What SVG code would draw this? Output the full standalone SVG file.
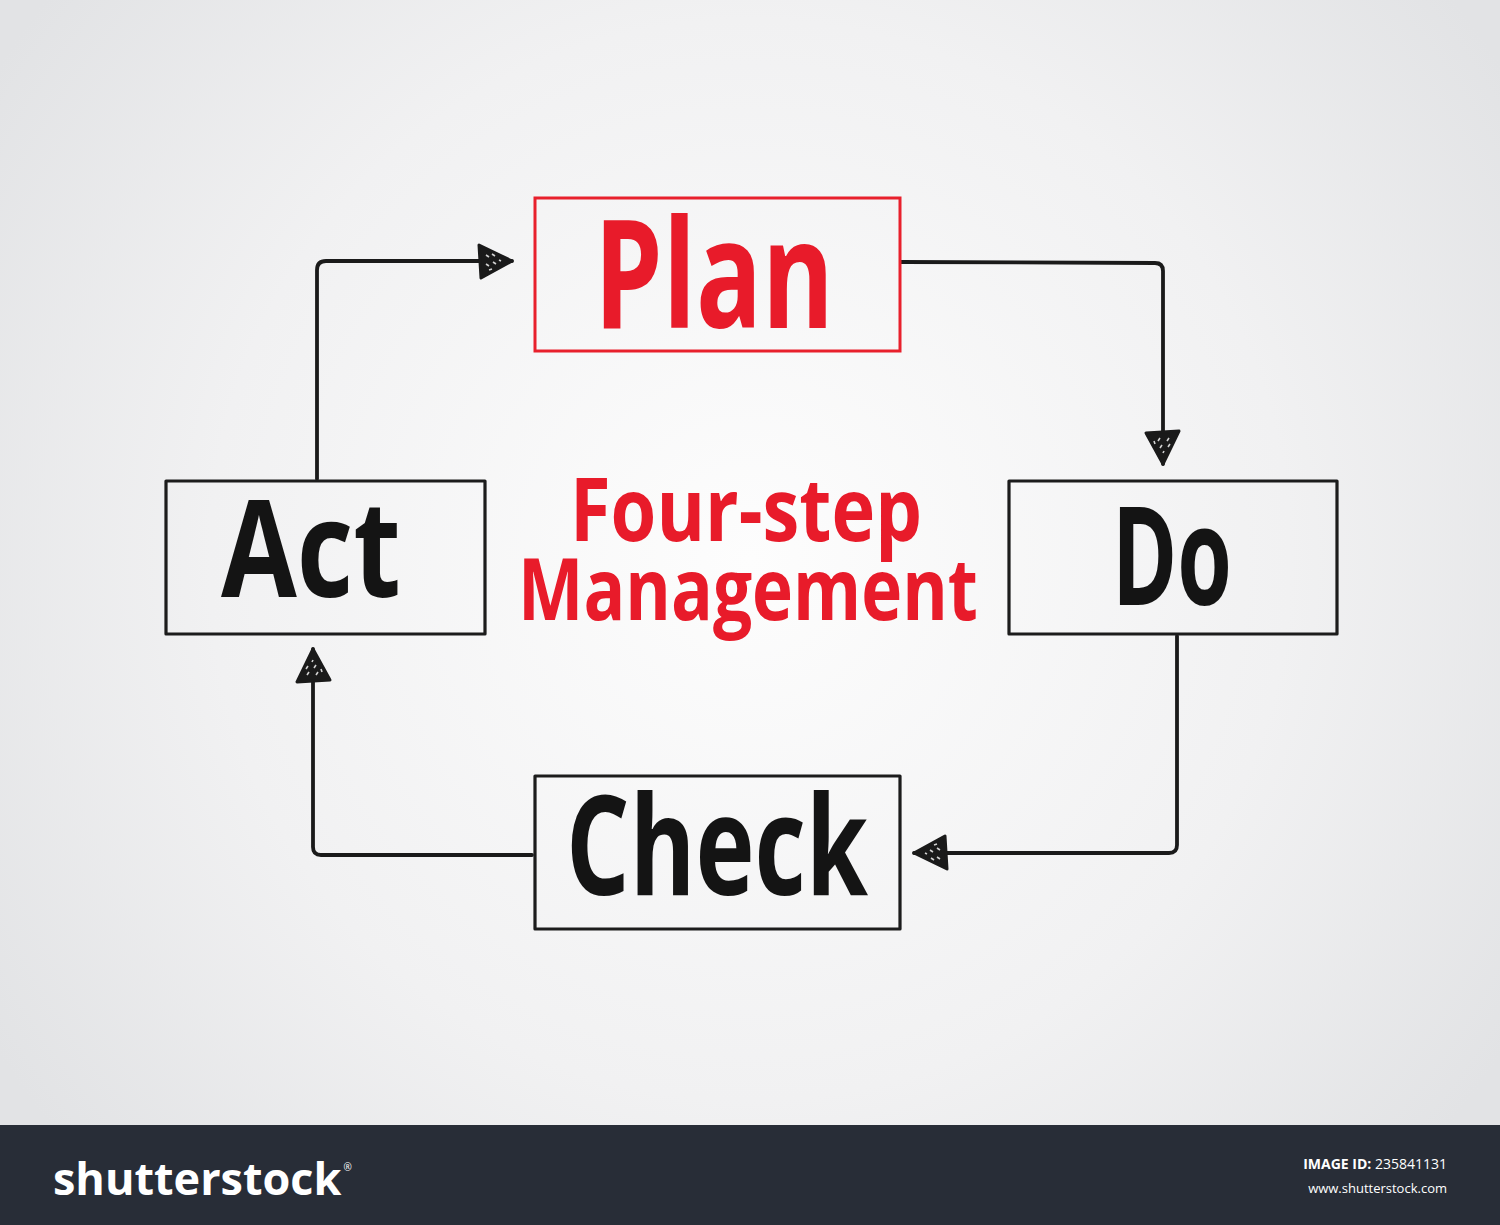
<svg xmlns="http://www.w3.org/2000/svg" width="1500" height="1225" viewBox="0 0 1500 1225">
<defs>
<radialGradient id="bg" cx="750" cy="560" r="900" gradientUnits="userSpaceOnUse">
<stop offset="0" stop-color="#fdfdfd"/>
<stop offset="0.6" stop-color="#f1f1f2"/>
<stop offset="1" stop-color="#e2e3e5"/>
</radialGradient>
<marker id="arr" markerUnits="userSpaceOnUse" markerWidth="42" markerHeight="42" refX="35" refY="19" orient="auto" viewBox="0 0 42 42">
<path d="M2,3 L35,19 L4,36 Z" fill="#1a1a1a" stroke="#1a1a1a" stroke-width="3" stroke-linejoin="round"/>
<path d="M9,13 l3,2 M15,12 l3,2 M9,22 l3,2 M16,20 l3,2 M22,18 l2,1 M12,28 l3,-1" stroke="#ffffff" stroke-width="1.6" opacity="0.8"/>
</marker>
<style>
.box{fill:none;stroke:#1c1c1c;stroke-width:3.2;stroke-linejoin:round}
.pbox{fill:none;stroke:#e8202c;stroke-width:3}
.lbl{font-family:"Open Sans","Noto Sans",sans-serif;font-weight:700;fill:#141414}
.red{fill:#e81b2a}
.conn{fill:none;stroke:#1a1a1a;stroke-width:3.8;stroke-linecap:round;stroke-linejoin:round}
.ft{font-family:"Open Sans","Liberation Sans",sans-serif;fill:#ffffff}
</style>
</defs>
<rect width="1500" height="1225" fill="url(#bg)"/>

<g id="connectors">
<path class="conn" d="M317,479 L317,270 Q317,261 326,261 L512,261" marker-end="url(#arr)"/>
<path class="conn" d="M901,262 L1155,263 Q1163,263 1163,271 L1163,464" marker-end="url(#arr)"/>
<path class="conn" d="M1177,636 L1177,845 Q1177,853 1169,853 L914,853" marker-end="url(#arr)"/>
<path class="conn" d="M532,855 L321,855 Q313,855 313,847 L313,649" marker-end="url(#arr)"/>
</g>

<g id="plan">
<rect class="pbox" x="535" y="198" width="365" height="153"/>
<text class="lbl red" x="714" y="328" font-size="150" text-anchor="middle" textLength="240" lengthAdjust="spacingAndGlyphs">Plan</text>
</g>

<g id="act">
<rect class="box" x="166" y="481" width="319" height="153"/>
<text class="lbl" x="311" y="597" font-size="134" text-anchor="middle" textLength="180" lengthAdjust="spacingAndGlyphs">Act</text>
</g>

<g id="do">
<rect class="box" x="1009" y="481" width="328" height="153"/>
<text class="lbl" x="1172" y="605" font-size="136" text-anchor="middle" textLength="120" lengthAdjust="spacingAndGlyphs">Do</text>
</g>

<g id="check">
<rect class="box" x="535" y="776" width="365" height="153"/>
<text class="lbl" x="717" y="895" font-size="138" text-anchor="middle" textLength="302" lengthAdjust="spacingAndGlyphs">Check</text>
</g>

<g id="title">
<text class="lbl red" font-weight="600" text-anchor="middle"><tspan x="746" y="541" font-size="87" textLength="352" lengthAdjust="spacingAndGlyphs">Four-step</tspan><tspan x="748" y="620" font-size="86" textLength="460" lengthAdjust="spacingAndGlyphs">Management</tspan></text>
</g>

<g id="footer">
<rect x="0" y="1125" width="1500" height="100" fill="#282d37"/>
<text class="ft" x="53" y="1195" font-size="45" font-weight="700">shutterstock<tspan font-size="10" font-weight="400" dx="2" dy="-24">®</tspan></text>
<text class="ft" x="1447" y="1169" font-size="14" text-anchor="end"><tspan font-weight="700">IMAGE ID:</tspan> 235841131</text>
<text class="ft" x="1447" y="1193" font-size="13" text-anchor="end">www.shutterstock.com</text>
</g>
</svg>
